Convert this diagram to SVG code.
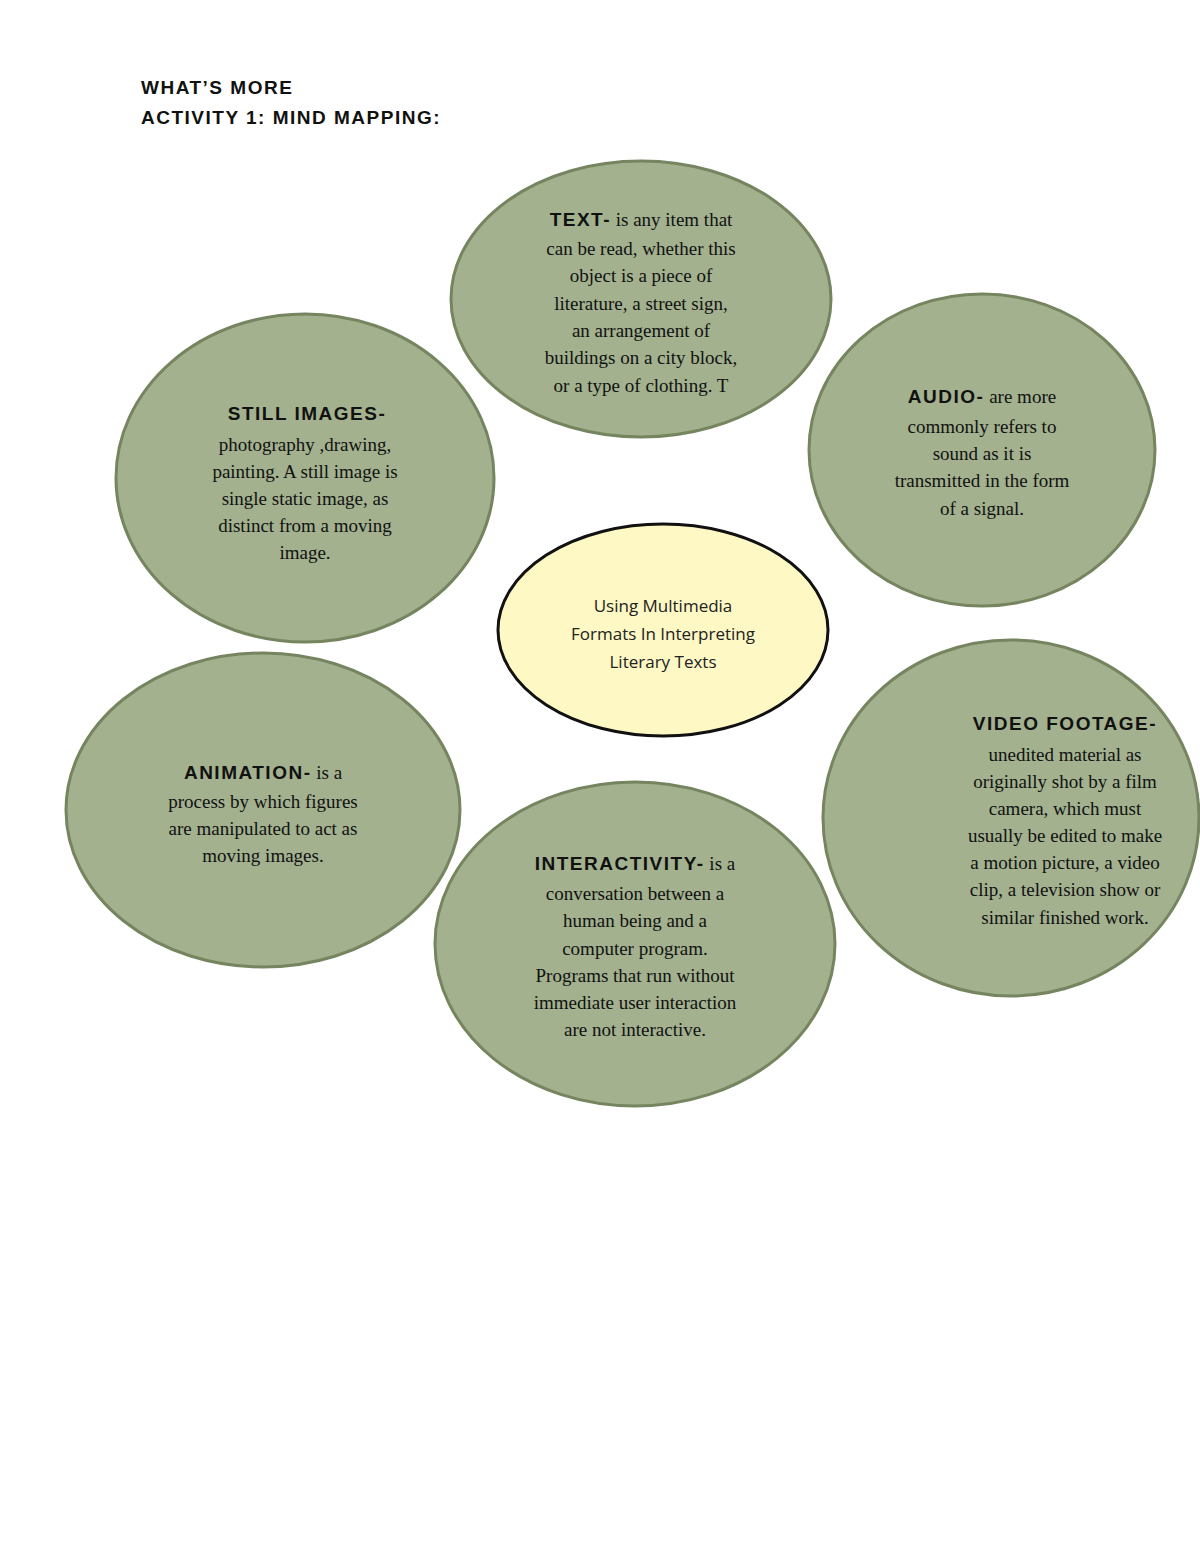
<svg xmlns="http://www.w3.org/2000/svg" width="1200" height="1553" viewBox="0 0 1200 1553">
<style>
.n{fill:#a3b18f;stroke:#76845f;stroke-width:3}
.c{fill:#fdf8c4;stroke:#111;stroke-width:3}
.t{font-family:"Liberation Serif",serif;font-size:19px;fill:#111;text-anchor:middle}
.h{font-family:"Liberation Sans",sans-serif;font-weight:bold;font-size:19px;letter-spacing:1.5px}
.m{font-family:"Open Sans","Liberation Sans",sans-serif;font-size:17px;fill:#222;text-anchor:middle}
.ti{font-family:"Liberation Sans",sans-serif;font-weight:bold;font-size:19px;letter-spacing:1.5px;fill:#111}
</style>
<rect width="1200" height="1553" fill="#fff"/>
<text class="ti" x="141" y="94">WHAT’S MORE</text>
<text class="ti" x="141" y="124">ACTIVITY 1: MIND MAPPING:</text>
<g id="connectors"></g>
<g id="text-node"><ellipse class="n" cx="641" cy="299" rx="190" ry="138"/>
<text class="t"><tspan x="641" y="226"><tspan class="h">TEXT-</tspan> is any item that</tspan><tspan x="641" y="255">can be read, whether this</tspan><tspan x="641" y="282">object is a piece of</tspan><tspan x="641" y="310">literature, a street sign,</tspan><tspan x="641" y="337">an arrangement of</tspan><tspan x="641" y="364">buildings on a city block,</tspan><tspan x="641" y="392">or a type of clothing. T</tspan></text></g>
<g id="audio"><ellipse class="n" cx="982" cy="450" rx="173" ry="156"/>
<text class="t"><tspan x="982" y="403"><tspan class="h">AUDIO-</tspan> are more</tspan><tspan x="982" y="433">commonly refers to</tspan><tspan x="982" y="460">sound as it is</tspan><tspan x="982" y="487">transmitted in the form</tspan><tspan x="982" y="515">of a signal.</tspan></text></g>
<g id="still"><ellipse class="n" cx="305" cy="478" rx="189" ry="164"/>
<text class="t"><tspan x="307" y="420" class="h">STILL IMAGES-</tspan><tspan x="305" y="451">photography ,drawing,</tspan><tspan x="305" y="478">painting. A still image is</tspan><tspan x="305" y="505">single static image, as</tspan><tspan x="305" y="532">distinct from a moving</tspan><tspan x="305" y="559">image.</tspan></text></g>
<g id="center"><ellipse class="c" cx="663" cy="630" rx="165" ry="106"/>
<text class="m"><tspan x="663" y="612">Using Multimedia</tspan><tspan x="663" y="640">Formats In Interpreting</tspan><tspan x="663" y="668">Literary Texts</tspan></text></g>
<g id="video"><ellipse class="n" cx="1011" cy="818" rx="188" ry="178"/>
<text class="t"><tspan x="1065" y="730" class="h">VIDEO FOOTAGE-</tspan><tspan x="1065" y="761">unedited material as</tspan><tspan x="1065" y="788">originally shot by a film</tspan><tspan x="1065" y="815">camera, which must</tspan><tspan x="1065" y="842">usually be edited to make</tspan><tspan x="1065" y="869">a motion picture, a video</tspan><tspan x="1065" y="896">clip, a television show or</tspan><tspan x="1065" y="924">similar finished work.</tspan></text></g>
<g id="animation"><ellipse class="n" cx="263" cy="810" rx="197" ry="157"/>
<text class="t"><tspan x="263" y="779"><tspan class="h">ANIMATION-</tspan> is a</tspan><tspan x="263" y="808">process by which figures</tspan><tspan x="263" y="835">are manipulated to act as</tspan><tspan x="263" y="862">moving images.</tspan></text></g>
<g id="interactivity"><ellipse class="n" cx="635" cy="944" rx="200" ry="162"/>
<text class="t"><tspan x="635" y="870"><tspan class="h">INTERACTIVITY-</tspan> is a</tspan><tspan x="635" y="900">conversation between a</tspan><tspan x="635" y="927">human being and a</tspan><tspan x="635" y="955">computer program.</tspan><tspan x="635" y="982">Programs that run without</tspan><tspan x="635" y="1009">immediate user interaction</tspan><tspan x="635" y="1036">are not interactive.</tspan></text></g>
</svg>
